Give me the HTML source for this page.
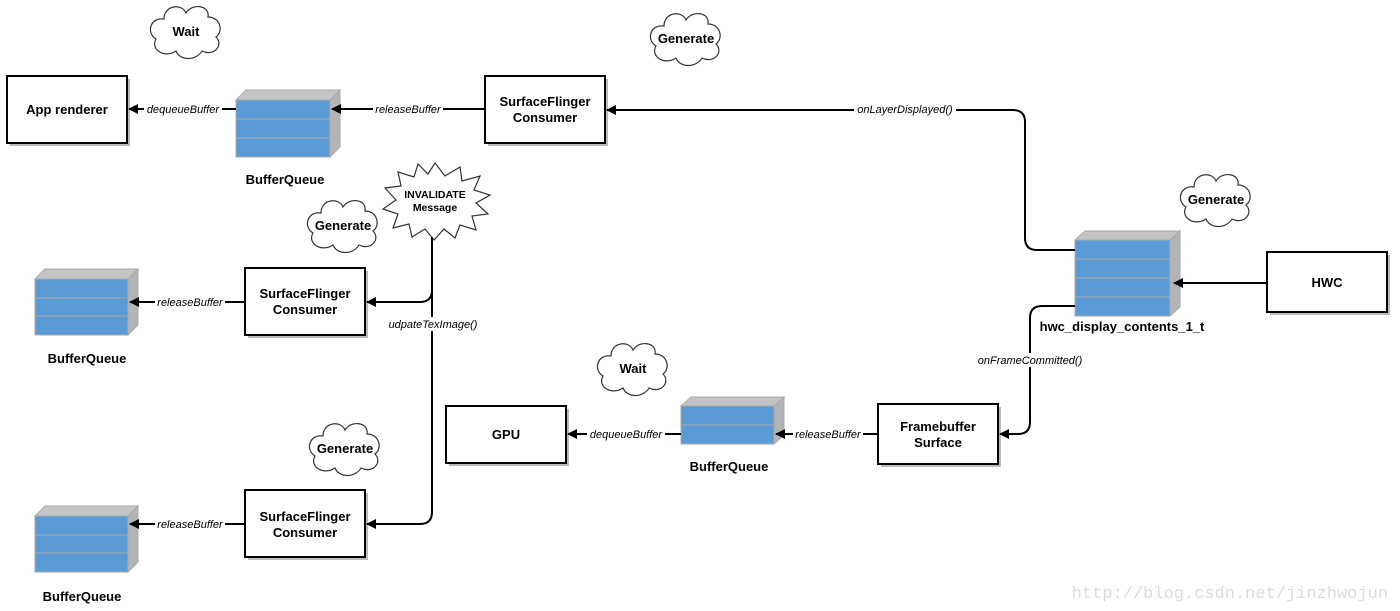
<!DOCTYPE html>
<html><head><meta charset="utf-8"><style>
html,body{margin:0;padding:0;background:#fff;}
svg{display:block;font-family:"Liberation Sans",Arial,sans-serif;}
.b{font-weight:bold;font-size:13px;fill:#000;text-anchor:middle;}
.l{font-style:italic;font-size:11px;fill:#000;text-anchor:middle;}
.box{fill:#fff;stroke:#000;stroke-width:2;}
.sh{fill:#bbb;}
.ln{fill:none;stroke:#000;stroke-width:2;}
</style></head><body>
<svg width="1400" height="611" viewBox="0 0 1400 611" xmlns="http://www.w3.org/2000/svg">
<defs>
<marker id="a" markerWidth="10" markerHeight="10" refX="9" refY="5" orient="auto" markerUnits="userSpaceOnUse"><path d="M0,0 L10,5 L0,10 z" fill="#000"/></marker>
<path id="cl" d="M-22,-12 C-22,-26 -4,-28 0,-18 C6,-28 24,-26 22,-14 C34,-14 38,0 30,6 C38,14 28,26 16,20 C10,30 -6,30 -10,20 C-22,28 -36,18 -30,8 C-40,2 -36,-14 -22,-12 z" fill="#fff" stroke="#333" stroke-width="1.2"/>
</defs>

<!-- clouds -->
<g><use href="#cl" x="186" y="31"/><text class="b" x="186" y="36">Wait</text></g>
<g><use href="#cl" x="686" y="38"/><text class="b" x="686" y="43">Generate</text></g>
<g><use href="#cl" x="343" y="225"/><text class="b" x="343" y="230">Generate</text></g>
<g><use href="#cl" x="1216" y="199"/><text class="b" x="1216" y="204">Generate</text></g>
<g><use href="#cl" x="633" y="368"/><text class="b" x="633" y="373">Wait</text></g>
<g><use href="#cl" x="345" y="448"/><text class="b" x="345" y="453">Generate</text></g>

<!-- star -->
<path d="M435,163 L445,176 L460,167 L462,181 L480,176 L474,190 L490,195 L476,203 L488,214 L472,216 L476,230 L460,225 L455,238 L444,229 L434,240 L425,229 L412,237 L409,224 L393,228 L398,214 L383,209 L396,200 L385,188 L401,186 L398,172 L414,177 L418,164 L428,174 z" fill="#fff" stroke="#333" stroke-width="1.2"/>
<text x="435" y="198" style="font-size:10.5px;font-weight:bold" text-anchor="middle">INVALIDATE</text>
<text x="435" y="211" style="font-size:10.5px;font-weight:bold" text-anchor="middle">Message</text>

<!-- boxes with shadows -->
<g>
<rect class="sh" x="10" y="79" width="120" height="67"/><rect class="box" x="7" y="76" width="120" height="67"/><text class="b" x="67" y="114">App renderer</text>
<rect class="sh" x="488" y="79" width="120" height="67"/><rect class="box" x="485" y="76" width="120" height="67"/><text class="b" x="545" y="106">SurfaceFlinger</text><text class="b" x="545" y="122">Consumer</text>
<rect class="sh" x="248" y="271" width="120" height="67"/><rect class="box" x="245" y="268" width="120" height="67"/><text class="b" x="305" y="298">SurfaceFlinger</text><text class="b" x="305" y="314">Consumer</text>
<rect class="sh" x="248" y="493" width="120" height="67"/><rect class="box" x="245" y="490" width="120" height="67"/><text class="b" x="305" y="521">SurfaceFlinger</text><text class="b" x="305" y="537">Consumer</text>
<rect class="sh" x="449" y="409" width="120" height="57"/><rect class="box" x="446" y="406" width="120" height="57"/><text class="b" x="506" y="439">GPU</text>
<rect class="sh" x="881" y="407" width="120" height="60"/><rect class="box" x="878" y="404" width="120" height="60"/><text class="b" x="938" y="431">Framebuffer</text><text class="b" x="938" y="447">Surface</text>
<rect class="sh" x="1270" y="255" width="120" height="60"/><rect class="box" x="1267" y="252" width="120" height="60"/><text class="b" x="1327" y="287">HWC</text>
</g>

<!-- buffer queues -->
<g stroke="#aaa" stroke-width="1">
<path d="M236,100 L246,90 L340,90 L330,100 z" fill="#c4c4c4"/><path d="M330,100 L340,90 L340,147 L330,157 z" fill="#b4b4b4"/>
<rect x="236" y="100" width="94" height="19" fill="#5b9bd5"/><rect x="236" y="119" width="94" height="19" fill="#5b9bd5"/><rect x="236" y="138" width="94" height="19" fill="#5b9bd5"/>
<path d="M35,279 L45,269 L138,269 L128,279 z" fill="#c4c4c4"/><path d="M128,279 L138,269 L138,325 L128,335 z" fill="#b4b4b4"/>
<rect x="35" y="279" width="93" height="19" fill="#5b9bd5"/><rect x="35" y="298" width="93" height="18" fill="#5b9bd5"/><rect x="35" y="316" width="93" height="19" fill="#5b9bd5"/>
<path d="M35,516 L45,506 L138,506 L128,516 z" fill="#c4c4c4"/><path d="M128,516 L138,506 L138,562 L128,572 z" fill="#b4b4b4"/>
<rect x="35" y="516" width="93" height="19" fill="#5b9bd5"/><rect x="35" y="535" width="93" height="18" fill="#5b9bd5"/><rect x="35" y="553" width="93" height="19" fill="#5b9bd5"/>
<path d="M681,406 L691,397 L784,397 L774,406 z" fill="#c4c4c4"/><path d="M774,406 L784,397 L784,435 L774,444 z" fill="#b4b4b4"/>
<rect x="681" y="406" width="93" height="19" fill="#5b9bd5"/><rect x="681" y="425" width="93" height="19" fill="#5b9bd5"/>
<path d="M1075,240 L1085,231 L1180,231 L1170,240 z" fill="#c4c4c4"/><path d="M1170,240 L1180,231 L1180,307 L1170,316 z" fill="#b4b4b4"/>
<rect x="1075" y="240" width="95" height="19" fill="#5b9bd5"/><rect x="1075" y="259" width="95" height="19" fill="#5b9bd5"/><rect x="1075" y="278" width="95" height="19" fill="#5b9bd5"/><rect x="1075" y="297" width="95" height="19" fill="#5b9bd5"/>
</g>
<text class="b" x="285" y="184">BufferQueue</text>
<text class="b" x="87" y="363">BufferQueue</text>
<text class="b" x="82" y="601">BufferQueue</text>
<text class="b" x="729" y="471">BufferQueue</text>
<text class="b" x="1122" y="331">hwc_display_contents_1_t</text>

<!-- connectors -->
<g class="ln">
<line x1="236" y1="109" x2="129" y2="109" marker-end="url(#a)"/>
<line x1="485" y1="109" x2="332" y2="109" marker-end="url(#a)"/>
<line x1="245" y1="302" x2="130" y2="302" marker-end="url(#a)"/>
<line x1="245" y1="524" x2="130" y2="524" marker-end="url(#a)"/>
<line x1="681" y1="434" x2="568" y2="434" marker-end="url(#a)"/>
<line x1="878" y1="434" x2="776" y2="434" marker-end="url(#a)"/>
<line x1="1267" y1="283" x2="1174" y2="283" marker-end="url(#a)"/>
<path d="M1075,250 L1037,250 Q1025,250 1025,238 L1025,122 Q1025,110 1013,110 L607,110" marker-end="url(#a)"/>
<path d="M1075,306 L1042,306 Q1030,306 1030,318 L1030,422 Q1030,434 1018,434 L1000,434" marker-end="url(#a)"/>
<path d="M432,237 L432,290 Q432,302 420,302 L367,302" marker-end="url(#a)"/>
<path d="M432,290 L432,512 Q432,524 420,524 L367,524" marker-end="url(#a)"/>
</g>

<!-- labels -->
<g>
<rect x="144" y="102" width="78" height="14" fill="#fff"/><text class="l" x="183" y="113">dequeueBuffer</text>
<rect x="373" y="102" width="70" height="14" fill="#fff"/><text class="l" x="408" y="113">releaseBuffer</text>
<rect x="854" y="103" width="102" height="14" fill="#fff"/><text class="l" x="905" y="113">onLayerDisplayed()</text>
<rect x="155" y="295" width="70" height="14" fill="#fff"/><text class="l" x="190" y="306">releaseBuffer</text>
<rect x="155" y="517" width="70" height="14" fill="#fff"/><text class="l" x="190" y="528">releaseBuffer</text>
<rect x="387" y="317" width="92" height="14" fill="#fff"/><text class="l" x="433" y="328">udpateTexImage()</text>
<rect x="975" y="353" width="110" height="14" fill="#fff"/><text class="l" x="1030" y="364">onFrameCommitted()</text>
<rect x="587" y="427" width="78" height="14" fill="#fff"/><text class="l" x="626" y="438">dequeueBuffer</text>
<rect x="793" y="427" width="70" height="14" fill="#fff"/><text class="l" x="828" y="438">releaseBuffer</text>
</g>

<text x="1388" y="598" text-anchor="end" style="font-family:'Liberation Mono',monospace;font-size:17px;fill:#dcdcdc">http://blog.csdn.net/jinzhwojun</text>
</svg>
</body></html>
